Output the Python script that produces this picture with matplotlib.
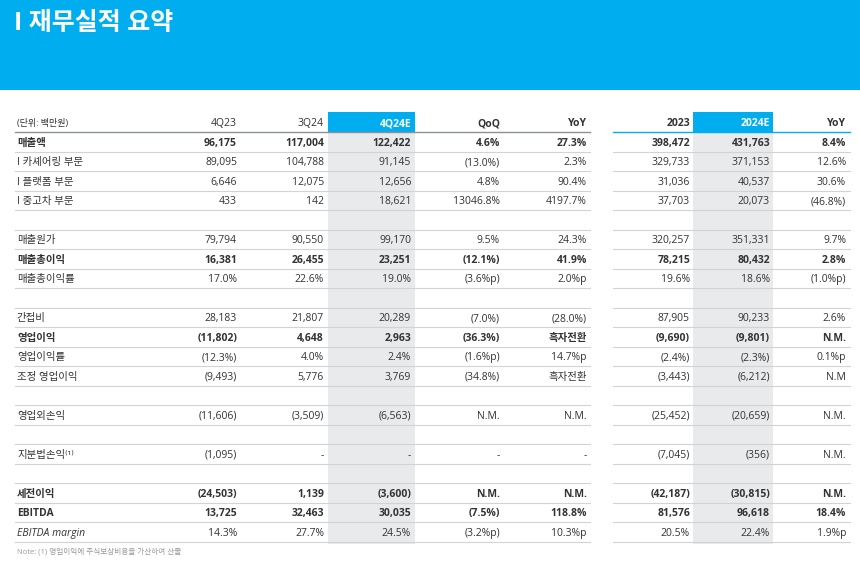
import matplotlib
matplotlib.use("Agg")
import matplotlib.pyplot as plt
from matplotlib.patches import Rectangle
from matplotlib import font_manager

names = {f.name for f in font_manager.fontManager.ttflist}
cjk = [n for n in ["Noto Sans CJK KR", "Noto Sans CJK JP", "Noto Sans CJK SC", "Noto Sans CJK TC"] if n in names]
FAM = ["Open Sans"] + cjk + ["DejaVu Sans"]
plt.rcParams["font.family"] = FAM

title = "I 재무실적 요약"
unit_label = "(단위: 백만원)"
q_headers = ["4Q23", "3Q24", "4Q24E", "QoQ", "YoY"]
y_headers = ["2023", "2024E", "YoY"]

labels = ["매출액", "I 카셰어링 부문", "I 플랫폼 부문", "I 중고차 부문", "",
          "매출원가", "매출총이익", "매출총이익률", "",
          "간접비", "영업이익", "영업이익률", "조정 영업이익", "",
          "영업외손익", "", "지분법손익⁽¹⁾", "",
          "세전이익", "EBITDA", "EBITDA margin"]
styles = ["b", "n", "n", "n", "", "n", "b", "i", "", "n", "b", "i", "n", "",
          "n", "", "n", "", "b", "b", "i"]
col_4q23 = ["96,175", "89,095", "6,646", "433", "", "79,794", "16,381", "17.0%", "",
            "28,183", "(11,802)", "(12.3%)", "(9,493)", "", "(11,606)", "", "(1,095)", "",
            "(24,503)", "13,725", "14.3%"]
col_3q24 = ["117,004", "104,788", "12,075", "142", "", "90,550", "26,455", "22.6%", "",
            "21,807", "4,648", "4.0%", "5,776", "", "(3,509)", "", "-", "",
            "1,139", "32,463", "27.7%"]
col_4q24e = ["122,422", "91,145", "12,656", "18,621", "", "99,170", "23,251", "19.0%", "",
             "20,289", "2,963", "2.4%", "3,769", "", "(6,563)", "", "-", "",
             "(3,600)", "30,035", "24.5%"]
col_qoq = ["4.6%", "(13.0%)", "4.8%", "13046.8%", "", "9.5%", "(12.1%)", "(3.6%p)", "",
           "(7.0%)", "(36.3%)", "(1.6%p)", "(34.8%)", "", "N.M.", "", "-", "",
           "N.M.", "(7.5%)", "(3.2%p)"]
col_yoy = ["27.3%", "2.3%", "90.4%", "4197.7%", "", "24.3%", "41.9%", "2.0%p", "",
           "(28.0%)", "흑자전환", "14.7%p", "흑자전환", "", "N.M.", "", "-", "",
           "N.M.", "118.8%", "10.3%p"]
col_2023 = ["398,472", "329,733", "31,036", "37,703", "", "320,257", "78,215", "19.6%", "",
            "87,905", "(9,690)", "(2.4%)", "(3,443)", "", "(25,452)", "", "(7,045)", "",
            "(42,187)", "81,576", "20.5%"]
col_2024e = ["431,763", "371,153", "40,537", "20,073", "", "351,331", "80,432", "18.6%", "",
             "90,233", "(9,801)", "(2.3%)", "(6,212)", "", "(20,659)", "", "(356)", "",
             "(30,815)", "96,618", "22.4%"]
col_yoy_y = ["8.4%", "12.6%", "30.6%", "(46.8%)", "", "9.7%", "2.8%", "(1.0%p)", "",
             "2.6%", "N.M.", "0.1%p", "N.M", "", "N.M.", "", "N.M.", "",
             "N.M.", "18.4%", "1.9%p"]
note = "Note: (1) 영업이익에 주식보상비용을 가산하여 산출"

W, H = 860, 562
fig = plt.figure(figsize=(W / 100, H / 100), dpi=100)
ax = fig.add_axes([0, 0, 1, 1])
ax.set_xlim(0, W); ax.set_ylim(H, 0); ax.axis("off")

blue = "#00AEEF"
txt = "#333333"
FS = 7.5
DY = 1.5
ax.add_patch(Rectangle((0, 0), W, 90, color=blue, lw=0))
ax.text(14, 23, title, color="white", fontsize=18, fontweight="bold", va="center")

row_h = 19.5
y0 = 132
left_cols = [col_4q23, col_3q24, col_4q24e, col_qoq, col_yoy]
left_x = [237, 324, 411, 500, 587]
right_cols = [col_2023, col_2024e, col_yoy_y]
right_x = [690, 770, 846]

n = len(labels)
y_end = y0 + n * row_h
ax.add_patch(Rectangle((328, y0), 87, y_end - y0 + 2, color="#e9eaec", lw=0))
ax.add_patch(Rectangle((693, y0), 80, y_end - y0 + 2, color="#e9eaec", lw=0))
ax.add_patch(Rectangle((328, 112), 87, 20, color=blue, lw=0))
ax.add_patch(Rectangle((693, 112), 80, 20, color=blue, lw=0))

hy = 122 + DY
ax.text(17, hy, unit_label, fontsize=6.5, color=txt, va="center")
for h, x in zip(q_headers, left_x):
    c = "white" if h == "4Q24E" else txt
    fw = "bold" if h in ("4Q24E", "QoQ", "YoY") else "normal"
    ax.text(x, hy, h, fontsize=FS, color=c, ha="right", va="center", fontweight=fw)
for h, x in zip(y_headers, right_x):
    c = "white" if h == "2024E" else txt
    ax.text(x, hy, h, fontsize=FS, color=c, ha="right", va="center", fontweight="bold")
ax.plot([15, 590], [y0, y0], color="#8a8f99", lw=1)
ax.plot([613, 850], [y0, y0], color=blue, lw=1)

for i in range(n):
    yc = y0 + (i + 0.5) * row_h + DY
    yl = y0 + (i + 1) * row_h
    ax.plot([15, 590], [yl, yl], color="#d0d3d8", lw=0.8)
    ax.plot([613, 850], [yl, yl], color="#d0d3d8", lw=0.8)
    s = styles[i]
    if s == "":
        continue
    fw = "bold" if s == "b" else "normal"
    fs = "italic" if s == "i" else "normal"
    ax.text(17, yc, labels[i], fontsize=FS, color=txt, va="center", fontweight=fw,
            style=fs)
    for col, x in zip(left_cols, left_x):
        ax.text(x, yc, col[i], fontsize=FS, color=txt, ha="right", va="center", fontweight=fw)
    for col, x in zip(right_cols, right_x):
        ax.text(x, yc, col[i], fontsize=FS, color=txt, ha="right", va="center", fontweight=fw)

ax.text(17, y_end + 10, note, fontsize=5.5, color="#999999", va="center")
fig.savefig("out.png", dpi=100)
